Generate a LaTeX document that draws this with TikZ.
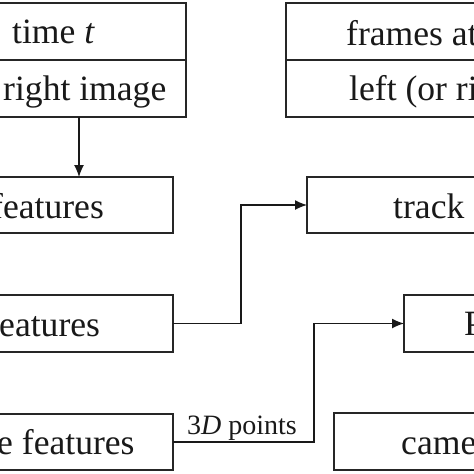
\documentclass[tikz,border=0pt]{standalone}
\usepackage{fontspec}
\setmainfont{Liberation Serif}
\usetikzlibrary{arrows.meta}
\tikzset{
  box/.style={draw=black!85, line width=1.3pt, inner sep=0pt, outer sep=0pt},
  txt/.style={anchor=base west, inner sep=0pt, font=\fontsize{35.6}{40}\selectfont, text=black!90},
  lbl/.style={anchor=base west, inner sep=0pt, font=\fontsize{28}{32}\selectfont, text=black!90},
  arr/.style={draw=black!90, line width=1.3pt, -{Latex[length=12pt,width=10pt]}},
  ln/.style={draw=black!90, line width=1.3pt}
}
\begin{document}
\begin{tikzpicture}[x=1pt,y=-1pt]
\useasboundingbox (0,0) rectangle (474,474);
\clip (0,0) rectangle (474,474);
\fill[white] (0,0) rectangle (474,474);
% boxes (extending beyond the crop)
\node[box, minimum width=336pt, minimum height=57pt] (inTop) at (18,31.5) {};
\node[box, minimum width=336pt, minimum height=57pt] (inBot) at (18,88.5) {};
\node[box, minimum width=300pt, minimum height=57pt] (frTop) at (436,31.5) {};
\node[box, minimum width=300pt, minimum height=57pt] (frBot) at (436,88.5) {};
\node[box, minimum width=323pt, minimum height=56pt] (feat1) at (11.5,205) {};
\node[box, minimum width=323pt, minimum height=57pt] (feat2) at (11.5,323.5) {};
\node[box, minimum width=323pt, minimum height=56pt] (feat3) at (11.5,442) {};
\node[box, minimum width=300pt, minimum height=56pt] (track) at (457,205) {};
\node[box, minimum width=300pt, minimum height=57pt] (pose) at (554,323.5) {};
\node[box, minimum width=300pt, minimum height=57pt] (cam) at (484,441.5) {};
% texts
\node[txt] (t1) at (12,43) {time \textit{t}};
\node[txt] (t2) at (3,100) {right image};
\node[txt] (t3) at (346,45) {frames at};
\node[txt] (t4) at (349,100) {left (or ri};
\node[txt] (t5) at (-9,218) {features};
\node[txt] (t6) at (393,218) {track};
\node[txt] (t7) at (-1,336) {eatures};
\node[txt] (t8) at (464,335) {P};
\node[txt] (t9) at (-3,454) {e features};
\node[txt] (t10) at (401,454) {came};
% connectors
\coordinate (a1) at (79,0);
\coordinate (k1) at (241,0);
\coordinate (k2) at (314,0);
\draw[arr] (inBot.south -| a1) -- (feat1.north -| a1);
\draw[arr] (feat2.east) -| (k1 |- track.west) -- (track.west);
\draw[arr] (feat3.east) -- (k2 |- feat3.east) -- (k2 |- pose.west) -- (pose.west);
\node[lbl] (l1) at (187,434) {3\textit{D} points};
\end{tikzpicture}
\end{document}
